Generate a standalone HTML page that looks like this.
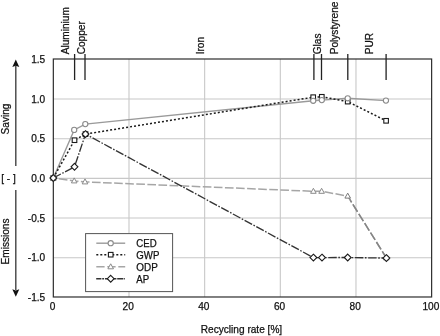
<!DOCTYPE html><html><head><meta charset="utf-8"><style>html,body{margin:0;padding:0;background:#fff;}svg{display:block}text{font-family:"Liberation Sans",Arial,sans-serif;font-size:10.1px;fill:#111;stroke:#111;stroke-width:0.25px}</style></head><body>
<svg width="440" height="336" viewBox="0 0 440 336">
<rect x="0" y="0" width="440" height="336" fill="#fff"/>
<path d="M128.99 59.00V297.00M204.65 59.00V297.00M280.31 59.00V297.00M355.97 59.00V297.00M53.33 99.07H431.63M53.33 138.74H431.63M53.33 178.40H431.63M53.33 218.06H431.63M53.33 257.73H431.63" stroke="#c8c8c8" stroke-width="1.1" fill="none"/>
<rect x="53.33" y="59.00" width="378.30" height="237.99" fill="none" stroke="#2e2e2e" stroke-width="1.2"/>
<path d="M74.60 54V80M85.00 54V80M313.90 54V80M321.50 54V80M347.80 54V80M386.10 54V80" stroke="#222" stroke-width="1.3" fill="none"/>
<text transform="translate(69.00 54.3) rotate(-90)">Aluminium</text>
<text transform="translate(85.00 54.3) rotate(-90)">Copper</text>
<text transform="translate(203.50 54.3) rotate(-90)">Iron</text>
<text transform="translate(321.40 54.3) rotate(-90)">Glas</text>
<text transform="translate(338.20 54.3) rotate(-90)">Polystyrene</text>
<text transform="translate(373.00 54.3) rotate(-90)">PUR</text>
<text x="45.2" y="63.00" text-anchor="end">1.5</text>
<text x="45.2" y="102.67" text-anchor="end">1.0</text>
<text x="45.2" y="142.34" text-anchor="end">0.5</text>
<text x="45.2" y="182.00" text-anchor="end">0.0</text>
<text x="45.2" y="221.66" text-anchor="end">-0.5</text>
<text x="45.2" y="261.33" text-anchor="end">-1.0</text>
<text x="45.2" y="301.00" text-anchor="end">-1.5</text>
<text x="52.53" y="310.1" text-anchor="middle">0</text>
<text x="128.19" y="310.1" text-anchor="middle">20</text>
<text x="203.85" y="310.1" text-anchor="middle">40</text>
<text x="279.51" y="310.1" text-anchor="middle">60</text>
<text x="355.17" y="310.1" text-anchor="middle">80</text>
<text x="430.83" y="310.1" text-anchor="middle">100</text>
<text x="241.5" y="332.8" text-anchor="middle">Recycling rate [%]</text>
<text transform="translate(8.8 119) rotate(-90)" text-anchor="middle">Saving</text>
<text transform="translate(8.8 241.5) rotate(-90)" text-anchor="middle">Emissions</text>
<text x="1.2" y="182.1">[ - ]</text>
<path d="M15.8 66V166M15.8 190V290" stroke="#444" stroke-width="1.4" fill="none"/>
<path d="M15.8 59.6L19.3 67L15.8 65.8L12.3 67Z" fill="#111"/>
<path d="M15.8 296.7L19.3 289.3L15.8 290.5L12.3 289.3Z" fill="#111"/>
<polyline points="53.33,178.00 74.20,129.90 85.30,124.10 313.20,100.80 321.80,100.10 347.70,98.30 385.95,100.60" fill="none" stroke="#9a9a9a" stroke-width="1.4"/>
<polyline points="53.33,178.00 74.50,140.20 85.50,134.10 313.20,97.20 321.80,96.80 347.70,101.60 386.10,120.80" fill="none" stroke="#1a1a1a" stroke-width="1.5" stroke-dasharray="2.0 2.04" stroke-dashoffset="4.0"/>
<polyline points="53.33,178.00 74.20,180.90 85.00,181.90 313.40,191.30 321.60,191.30 347.70,196.10 386.30,257.80" fill="none" stroke="#a6a6a6" stroke-width="1.5" stroke-dasharray="8.65 2.44" stroke-dashoffset="5.48"/>
<clipPath id="cd"><rect x="349.5" y="186" width="40" height="70"/></clipPath>
<polyline clip-path="url(#cd)" points="53.33,178.00 74.20,180.90 85.00,181.90 313.40,191.30 321.60,191.30 347.70,196.10 386.30,257.80" fill="none" stroke="#858585" stroke-width="1.5" stroke-dasharray="8.65 2.44" stroke-dashoffset="5.48"/>
<polyline points="53.33,178.00 74.50,166.80 85.50,134.10 313.40,257.60 322.00,257.60 347.70,257.50 386.40,258.10" fill="none" stroke="#333" stroke-width="1.35" stroke-dasharray="8.5 1.6 1.6 1.6"/>
<rect x="51.03" y="175.70" width="4.6" height="4.6" fill="#fff" stroke="#1a1a1a" stroke-width="1.1"/>
<rect x="72.20" y="137.90" width="4.6" height="4.6" fill="#fff" stroke="#1a1a1a" stroke-width="1.1"/>
<rect x="83.20" y="131.80" width="4.6" height="4.6" fill="#fff" stroke="#1a1a1a" stroke-width="1.1"/>
<rect x="310.90" y="94.90" width="4.6" height="4.6" fill="#fff" stroke="#1a1a1a" stroke-width="1.1"/>
<rect x="319.50" y="94.50" width="4.6" height="4.6" fill="#fff" stroke="#1a1a1a" stroke-width="1.1"/>
<rect x="345.40" y="99.30" width="4.6" height="4.6" fill="#fff" stroke="#1a1a1a" stroke-width="1.1"/>
<rect x="383.80" y="118.50" width="4.6" height="4.6" fill="#fff" stroke="#1a1a1a" stroke-width="1.1"/>
<circle cx="53.33" cy="178.00" r="2.6" fill="#fff" stroke="#8a8a8a" stroke-width="1.1"/>
<circle cx="74.20" cy="129.90" r="2.6" fill="#fff" stroke="#8a8a8a" stroke-width="1.1"/>
<circle cx="85.30" cy="124.10" r="2.6" fill="#fff" stroke="#8a8a8a" stroke-width="1.1"/>
<circle cx="313.20" cy="100.80" r="2.6" fill="#fff" stroke="#8a8a8a" stroke-width="1.1"/>
<circle cx="321.80" cy="100.10" r="2.6" fill="#fff" stroke="#8a8a8a" stroke-width="1.1"/>
<circle cx="347.70" cy="98.30" r="2.6" fill="#fff" stroke="#8a8a8a" stroke-width="1.1"/>
<circle cx="385.95" cy="100.60" r="2.6" fill="#fff" stroke="#8a8a8a" stroke-width="1.1"/>
<path d="M53.33 175.00L56.13 180.00L50.53 180.00Z" fill="#fff" stroke="#8a8a8a" stroke-width="1"/>
<path d="M74.20 177.90L77.00 182.90L71.40 182.90Z" fill="#fff" stroke="#8a8a8a" stroke-width="1"/>
<path d="M85.00 178.90L87.80 183.90L82.20 183.90Z" fill="#fff" stroke="#8a8a8a" stroke-width="1"/>
<path d="M313.40 188.30L316.20 193.30L310.60 193.30Z" fill="#fff" stroke="#8a8a8a" stroke-width="1"/>
<path d="M321.60 188.30L324.40 193.30L318.80 193.30Z" fill="#fff" stroke="#8a8a8a" stroke-width="1"/>
<path d="M347.70 193.10L350.50 198.10L344.90 198.10Z" fill="#fff" stroke="#7a7a7a" stroke-width="1"/>
<path d="M386.30 254.80L389.10 259.80L383.50 259.80Z" fill="#fff" stroke="#7a7a7a" stroke-width="1"/>
<path d="M53.33 174.60L56.73 178.00L53.33 181.40L49.93 178.00Z" fill="#fff" stroke="#1a1a1a" stroke-width="1.1"/>
<path d="M74.50 163.40L77.90 166.80L74.50 170.20L71.10 166.80Z" fill="#fff" stroke="#1a1a1a" stroke-width="1.1"/>
<path d="M85.50 130.70L88.90 134.10L85.50 137.50L82.10 134.10Z" fill="#fff" stroke="#1a1a1a" stroke-width="1.1"/>
<path d="M313.40 254.20L316.80 257.60L313.40 261.00L310.00 257.60Z" fill="#fff" stroke="#1a1a1a" stroke-width="1.1"/>
<path d="M322.00 254.20L325.40 257.60L322.00 261.00L318.60 257.60Z" fill="#fff" stroke="#1a1a1a" stroke-width="1.1"/>
<path d="M347.70 254.10L351.10 257.50L347.70 260.90L344.30 257.50Z" fill="#fff" stroke="#1a1a1a" stroke-width="1.1"/>
<path d="M386.40 254.70L389.80 258.10L386.40 261.50L383.00 258.10Z" fill="#fff" stroke="#1a1a1a" stroke-width="1.1"/>
<rect x="85.6" y="233.6" width="87" height="58" fill="#fff" stroke="#555" stroke-width="1"/>
<path d="M96.3 243.2H125.2" stroke="#9a9a9a" stroke-width="1.4"/>
<circle cx="110.70" cy="243.20" r="2.6" fill="#fff" stroke="#8a8a8a" stroke-width="1.1"/>
<path d="M96.3 254.7H125.2" stroke="#1a1a1a" stroke-width="1.5" stroke-dasharray="2.0 2.0"/>
<rect x="108.40" y="252.40" width="4.6" height="4.6" fill="#fff" stroke="#1a1a1a" stroke-width="1.1"/>
<path d="M96.3 266.8H125.2" stroke="#a6a6a6" stroke-width="1.5" stroke-dasharray="8.3 2.7"/>
<path d="M110.70 263.80L113.50 268.80L107.90 268.80Z" fill="#fff" stroke="#8a8a8a" stroke-width="1"/>
<path d="M96.2 278.7H101.4M102.2 278.7H104M104.9 278.7H116.4M117.2 278.7H123M123.6 278.7H124.8" stroke="#333" stroke-width="1.35"/>
<path d="M110.70 275.30L114.10 278.70L110.70 282.10L107.30 278.70Z" fill="#fff" stroke="#1a1a1a" stroke-width="1.1"/>
<text x="136.3" y="247.00" style="font-size:10px" textLength="20.37" lengthAdjust="spacingAndGlyphs">CED</text>
<text x="136.3" y="259.00" style="font-size:10px" textLength="23.05" lengthAdjust="spacingAndGlyphs">GWP</text>
<text x="136.3" y="270.70" style="font-size:10px" textLength="21.44" lengthAdjust="spacingAndGlyphs">ODP</text>
<text x="136.3" y="283.00" style="font-size:10px" textLength="12.87" lengthAdjust="spacingAndGlyphs">AP</text>
</svg></body></html>
